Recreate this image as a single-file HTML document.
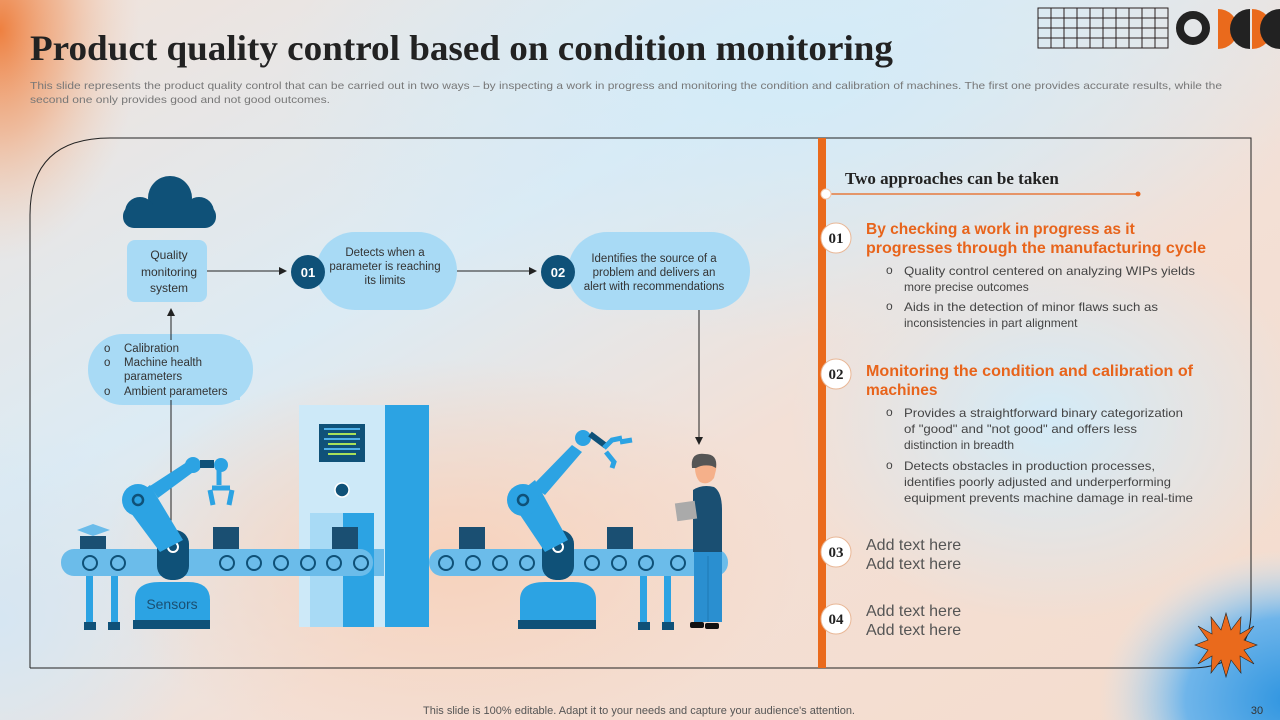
<!DOCTYPE html>
<html><head><meta charset="utf-8"><style>
html,body{margin:0;padding:0;width:1280px;height:720px;overflow:hidden}
svg{display:block}
</style></head><body>
<svg width="1280" height="720" viewBox="0 0 1280 720" xmlns="http://www.w3.org/2000/svg" font-family="Liberation Sans, sans-serif">
<defs>
<linearGradient id="bg" x1="0" y1="0" x2="1" y2="1">
<stop offset="0" stop-color="#f1e2da"/><stop offset="0.35" stop-color="#dcebf4"/><stop offset="0.6" stop-color="#f3e0d6"/><stop offset="1" stop-color="#f4dccd"/>
</linearGradient>
<radialGradient id="og" gradientUnits="userSpaceOnUse" cx="0" cy="0" r="1" gradientTransform="translate(0,30) scale(140,230)">
<stop offset="0" stop-color="#ee8040"/><stop offset="0.45" stop-color="#f0a070" stop-opacity="0.6"/><stop offset="1" stop-color="#f3d0b8" stop-opacity="0"/>
</radialGradient>
<radialGradient id="bl" gradientUnits="userSpaceOnUse" cx="0" cy="0" r="1" gradientTransform="translate(1290,700) scale(190,150)">
<stop offset="0" stop-color="#2f95e0"/><stop offset="0.55" stop-color="#6fb5ea"/><stop offset="1" stop-color="#cfe5f4" stop-opacity="0"/>
</radialGradient>
<radialGradient id="lb" gradientUnits="userSpaceOnUse" cx="0" cy="0" r="1" gradientTransform="translate(800,80) scale(520,260)">
<stop offset="0" stop-color="#d3ebf8"/><stop offset="1" stop-color="#d3ebf8" stop-opacity="0"/>
</radialGradient>
<radialGradient id="lb2" gradientUnits="userSpaceOnUse" cx="0" cy="0" r="1" gradientTransform="translate(1050,420) scale(260,200)">
<stop offset="0" stop-color="#d3ebf8"/><stop offset="1" stop-color="#d3ebf8" stop-opacity="0"/>
</radialGradient>
<radialGradient id="lb3" gradientUnits="userSpaceOnUse" cx="0" cy="0" r="1" gradientTransform="translate(0,620) scale(200,200)">
<stop offset="0" stop-color="#d6e6f2"/><stop offset="1" stop-color="#d6e6f2" stop-opacity="0"/>
</radialGradient>
<radialGradient id="pc" gradientUnits="userSpaceOnUse" cx="0" cy="0" r="1" gradientTransform="translate(450,560) scale(350,200)">
<stop offset="0" stop-color="#f7d2bc"/><stop offset="1" stop-color="#f7d2bc" stop-opacity="0"/>
</radialGradient>
<marker id="ar" markerWidth="8" markerHeight="8" refX="7" refY="4" orient="auto" markerUnits="userSpaceOnUse"><path d="M0,0 L8,4 L0,8 z" fill="#222"/></marker>
</defs>
<rect width="1280" height="720" fill="url(#bg)"/>
<rect width="1280" height="720" fill="url(#lb)"/>
<rect width="1280" height="720" fill="url(#lb2)"/>
<rect width="1280" height="720" fill="url(#lb3)"/>
<rect width="1280" height="720" fill="url(#pc)"/>
<rect width="1280" height="720" fill="url(#og)"/>
<rect width="1280" height="720" fill="url(#bl)"/>

<text x="30" y="60" font-family="Liberation Serif, serif" font-weight="bold" font-size="36" fill="#222" textLength="863" lengthAdjust="spacingAndGlyphs">Product quality control based on condition monitoring</text>
<text x="30" y="89" font-size="10.5" fill="#777" textLength="1192" lengthAdjust="spacingAndGlyphs">This slide represents the product quality control that can be carried out in two ways – by inspecting a work in progress and monitoring the condition and calibration of machines. The first one provides accurate results, while the</text>
<text x="30" y="103" font-size="10.5" fill="#777" textLength="300" lengthAdjust="spacingAndGlyphs">second one only provides good and not good outcomes.</text>

<g stroke="#2a2020" stroke-width="1" fill="none">
<rect x="1038" y="8" width="130" height="40"/>
<path d="M1051 8V48M1064 8V48M1077 8V48M1090 8V48M1103 8V48M1116 8V48M1129 8V48M1142 8V48M1155 8V48M1038 18H1168M1038 28H1168M1038 38H1168"/>
</g>
<circle cx="1193" cy="28" r="13" fill="none" stroke="#222" stroke-width="8"/>
<path d="M1218 9 A19 19 0 0 1 1218 49 z" fill="#ea6a1c"/>
<path d="M1250 9 A19 19 0 0 0 1250 49 z" fill="#222"/>
<path d="M1252 9 A19 19 0 0 1 1252 49 z" fill="#ea6a1c"/>
<path d="M1280 9 A19 19 0 0 0 1280 49 z" fill="#222"/>

<path d="M30 668 V215 Q30 138 110 138 H820" fill="none" stroke="#222" stroke-width="1"/>
<path d="M30 668 H1190 Q1251 668 1251 610 V138 H820" fill="none" stroke="#222" stroke-width="1"/>
<rect x="818" y="138" width="8" height="530" fill="#ea6a1c"/>

<text x="845" y="184" font-family="Liberation Serif, serif" font-weight="bold" font-size="17" fill="#222">Two approaches can be taken</text>
<line x1="826" y1="194" x2="1138" y2="194" stroke="#e8641b" stroke-width="1.2"/>
<circle cx="826" cy="194" r="5" fill="#fff" stroke="#f2c9ae"/>
<circle cx="1138" cy="194" r="2.5" fill="#e8641b"/>
<g font-family="Liberation Serif, serif" font-weight="bold" font-size="15" fill="#222" text-anchor="middle">
<circle cx="836" cy="238" r="15" fill="#fff" stroke="#e9b796"/><text x="836" y="243">01</text>
<circle cx="836" cy="374" r="15" fill="#fff" stroke="#e9b796"/><text x="836" y="379">02</text>
<circle cx="836" cy="552" r="15" fill="#fff" stroke="#e9b796"/><text x="836" y="557">03</text>
<circle cx="836" cy="619" r="15" fill="#fff" stroke="#e9b796"/><text x="836" y="624">04</text>
</g>
<g font-weight="bold" font-size="15.5" fill="#e8641b">
<text x="866" y="234">By checking a work in progress as it</text>
<text x="866" y="253" textLength="340" lengthAdjust="spacingAndGlyphs">progresses through the manufacturing cycle</text>
<text x="866" y="376" textLength="327" lengthAdjust="spacingAndGlyphs">Monitoring the condition and calibration of</text>
<text x="866" y="395">machines</text>
</g>
<g font-size="12" fill="#444">
<text x="886" y="274">o</text><text x="904" y="275" textLength="291" lengthAdjust="spacingAndGlyphs">Quality control centered on analyzing WIPs yields</text>
<text x="904" y="291">more precise outcomes</text>
<text x="886" y="310">o</text><text x="904" y="311" textLength="254" lengthAdjust="spacingAndGlyphs">Aids in the detection of minor flaws such as</text>
<text x="904" y="327">inconsistencies in part alignment</text>
<text x="886" y="416">o</text><text x="904" y="417" textLength="279" lengthAdjust="spacingAndGlyphs">Provides a straightforward binary categorization</text>
<text x="904" y="433" textLength="233" lengthAdjust="spacingAndGlyphs">of "good" and "not good" and offers less</text>
<text x="904" y="449">distinction in breadth</text>
<text x="886" y="469">o</text><text x="904" y="470" textLength="251" lengthAdjust="spacingAndGlyphs">Detects obstacles in production processes,</text>
<text x="904" y="486" textLength="267" lengthAdjust="spacingAndGlyphs">identifies poorly adjusted and underperforming</text>
<text x="904" y="502" textLength="289" lengthAdjust="spacingAndGlyphs">equipment prevents machine damage in real-time</text>
</g>
<g font-size="16" fill="#555">
<text x="866" y="550">Add text here</text><text x="866" y="569">Add text here</text>
<text x="866" y="616">Add text here</text><text x="866" y="635">Add text here</text>
</g>

<polygon fill="#ea6a1c" stroke="#222" stroke-width="0.6" points="1226,613 1231,630 1241,617 1240,634 1254,626 1244,640 1257,645 1244,650 1254,664 1240,656 1241,673 1231,660 1226,677 1221,660 1211,673 1212,656 1198,664 1208,650 1195,645 1208,640 1198,626 1212,634 1211,617 1221,630"/>

<g fill="#0f5178">
<circle cx="170" cy="198" r="22"/><circle cx="140" cy="212" r="15"/><circle cx="199" cy="212" r="15"/>
<rect x="123" y="205" width="93" height="23" rx="11"/>
</g>
<rect x="127" y="240" width="80" height="62" rx="8" fill="#a8daf5"/>
<g font-size="12" fill="#333" text-anchor="middle">
<text x="169" y="259">Quality</text><text x="169" y="276">monitoring</text><text x="169" y="292">system</text>
</g>
<line x1="207" y1="271" x2="286" y2="271" stroke="#222" marker-end="url(#ar)"/>
<rect x="316" y="232" width="141" height="78" rx="39" fill="#a8daf5"/>
<circle cx="308" cy="272" r="17" fill="#0f5178"/>
<text x="308" y="277" font-size="13" font-weight="bold" fill="#fff" text-anchor="middle">01</text>
<g font-size="11.5" fill="#333" text-anchor="middle">
<text x="385" y="256">Detects when a</text><text x="385" y="270">parameter is reaching</text><text x="385" y="284">its limits</text>
</g>
<line x1="457" y1="271" x2="536" y2="271" stroke="#222" marker-end="url(#ar)"/>
<rect x="568" y="232" width="182" height="78" rx="39" fill="#a8daf5"/>
<circle cx="558" cy="272" r="17" fill="#0f5178"/>
<text x="558" y="277" font-size="13" font-weight="bold" fill="#fff" text-anchor="middle">02</text>
<g font-size="11.5" fill="#333" text-anchor="middle">
<text x="654" y="262">Identifies the source of a</text><text x="654" y="276">problem and delivers an</text><text x="654" y="290">alert with recommendations</text>
</g>
<line x1="699" y1="310" x2="699" y2="444" stroke="#222" marker-end="url(#ar)"/>
<rect x="88" y="334" width="165" height="71" rx="35" fill="#a8daf5"/>
<line x1="171" y1="580" x2="171" y2="309" stroke="#222" marker-end="url(#ar)"/>
<rect x="120" y="340" width="120" height="60" fill="#a8daf5"/>
<g font-size="11.5" fill="#333">
<text x="104" y="352">o</text><text x="124" y="352">Calibration</text>
<text x="104" y="366">o</text><text x="124" y="366">Machine health</text>
<text x="124" y="380">parameters</text>
<text x="104" y="395">o</text><text x="124" y="395">Ambient parameters</text>
</g>

<rect x="299" y="405" width="86" height="222" fill="#cde9f8"/>
<rect x="385" y="405" width="44" height="222" fill="#2ca3e3"/>
<rect x="319" y="424" width="46" height="38" fill="#0f5178"/>
<g stroke-width="2"><line x1="324" y1="429" x2="360" y2="429" stroke="#4fb0e8"/><line x1="328" y1="434" x2="356" y2="434" stroke="#a8e05a"/><line x1="324" y1="439" x2="360" y2="439" stroke="#4fb0e8"/><line x1="328" y1="444" x2="356" y2="444" stroke="#a8e05a"/><line x1="324" y1="449" x2="360" y2="449" stroke="#4fb0e8"/><line x1="328" y1="454" x2="356" y2="454" stroke="#a8e05a"/></g>
<circle cx="342" cy="490" r="7" fill="#0f5178" stroke="#fff" stroke-width="1.5"/>
<rect x="310" y="513" width="64" height="114" fill="#a8daf5"/>
<rect x="343" y="513" width="31" height="114" fill="#2ca3e3"/>

<rect x="61" y="549" width="312" height="27" rx="13" fill="#6bbcea"/>
<rect x="429" y="549" width="299" height="27" rx="13" fill="#6bbcea"/>
<rect x="374" y="549" width="10" height="27" fill="#6bbcea"/>
<g fill="none" stroke="#0f5178" stroke-width="2">
<circle cx="90" cy="563" r="7"/><circle cx="118" cy="563" r="7"/>
<circle cx="227" cy="563" r="7"/><circle cx="254" cy="563" r="7"/><circle cx="281" cy="563" r="7"/><circle cx="308" cy="563" r="7"/><circle cx="334" cy="563" r="7"/><circle cx="361" cy="563" r="7"/>
<circle cx="446" cy="563" r="7"/><circle cx="473" cy="563" r="7"/><circle cx="500" cy="563" r="7"/><circle cx="527" cy="563" r="7"/><circle cx="592" cy="563" r="7"/><circle cx="619" cy="563" r="7"/><circle cx="646" cy="563" r="7"/><circle cx="678" cy="563" r="7"/>
</g>
<g fill="#2ca3e3"><rect x="86" y="576" width="7" height="46"/><rect x="111" y="576" width="7" height="46"/><rect x="640" y="576" width="7" height="46"/><rect x="664" y="576" width="7" height="46"/></g>
<g fill="#0f5178"><rect x="84" y="622" width="12" height="8"/><rect x="108" y="622" width="12" height="8"/><rect x="638" y="622" width="12" height="8"/><rect x="662" y="622" width="12" height="8"/></g>
<g fill="#1a4f72">
<rect x="80" y="536" width="26" height="13"/><rect x="213" y="527" width="26" height="22"/><rect x="332" y="527" width="26" height="22"/><rect x="459" y="527" width="26" height="22"/><rect x="607" y="527" width="26" height="22"/>
</g>
<path d="M77 530 L93 524 L110 530 L93 536 z" fill="#6bbcea"/>

<path d="M135 628 V600 Q135 582 160 582 H188 Q210 582 210 600 V628 z" fill="#2ca3e3"/>
<rect x="133" y="620" width="77" height="9" fill="#0f5178"/>
<rect x="157" y="530" width="32" height="50" rx="14" fill="#0f5178"/>
<circle cx="173" cy="547" r="5" fill="none" stroke="#fff" stroke-width="2"/>
<path d="M125 505 L150 485 L183 540 L160 552 z" fill="#2ca3e3"/>
<circle cx="138" cy="500" r="16" fill="#2ca3e3"/><circle cx="138" cy="500" r="5" fill="none" stroke="#0f5178" stroke-width="2.5"/>
<path d="M150 486 L190 460 L196 470 L158 498 z" fill="#2ca3e3"/>
<circle cx="193" cy="465" r="8" fill="#2ca3e3"/>
<rect x="200" y="460" width="14" height="8" fill="#0f5178"/>
<circle cx="221" cy="465" r="7" fill="#2ca3e3"/>
<path d="M219 470 V485 M210 490 L213 505 M232 490 L229 505 M212 488 H230" stroke="#2ca3e3" stroke-width="5" fill="none"/>

<path d="M520 628 V600 Q520 582 545 582 H573 Q596 582 596 600 V628 z" fill="#2ca3e3"/>
<rect x="518" y="620" width="78" height="9" fill="#0f5178"/>
<rect x="542" y="530" width="32" height="50" rx="14" fill="#0f5178"/>
<circle cx="558" cy="547" r="5" fill="none" stroke="#fff" stroke-width="2"/>
<path d="M510 500 L535 480 L568 540 L545 552 z" fill="#2ca3e3"/>
<circle cx="523" cy="500" r="16" fill="#2ca3e3"/><circle cx="523" cy="500" r="5" fill="none" stroke="#0f5178" stroke-width="2.5"/>
<path d="M532 486 L572 445 L582 452 L545 495 z" fill="#2ca3e3"/>
<circle cx="583" cy="438" r="8" fill="#2ca3e3"/>
<path d="M590 434 L606 446" stroke="#0f5178" stroke-width="6"/>
<path d="M604 448 L612 440 L622 438 M606 452 L614 462 L612 468 M620 442 L632 440" stroke="#2ca3e3" stroke-width="5" fill="none"/>

<path d="M695 462 Q700 454 710 456 Q718 460 716 470 L714 478 Q708 486 700 482 Q694 476 695 462 z" fill="#f5b08a"/>
<path d="M692 468 Q690 452 705 454 Q718 454 716 468 L712 466 Q703 464 696 468 z" fill="#555"/>
<path d="M693 490 Q702 484 714 487 Q722 492 722 510 L722 552 L693 552 z" fill="#1a4f72"/>
<rect x="694" y="552" width="28" height="70" fill="#2a8fd0"/>
<line x1="708" y1="556" x2="708" y2="622" stroke="#1e78b5"/>
<rect x="676" y="502" width="20" height="18" fill="#aaa" transform="rotate(-8 686 511)"/>
<rect x="690" y="622" width="14" height="6" rx="2" fill="#111"/>
<rect x="705" y="623" width="14" height="6" rx="2" fill="#111"/>

<text x="172" y="609" font-size="14" fill="#1a4f72" text-anchor="middle">Sensors</text>

<text x="639" y="714" font-size="11" fill="#555" text-anchor="middle">This slide is 100% editable. Adapt it to your needs and capture your audience's attention.</text>
<text x="1257" y="714" font-size="11" fill="#333" text-anchor="middle">30</text>
</svg>
</body></html>
